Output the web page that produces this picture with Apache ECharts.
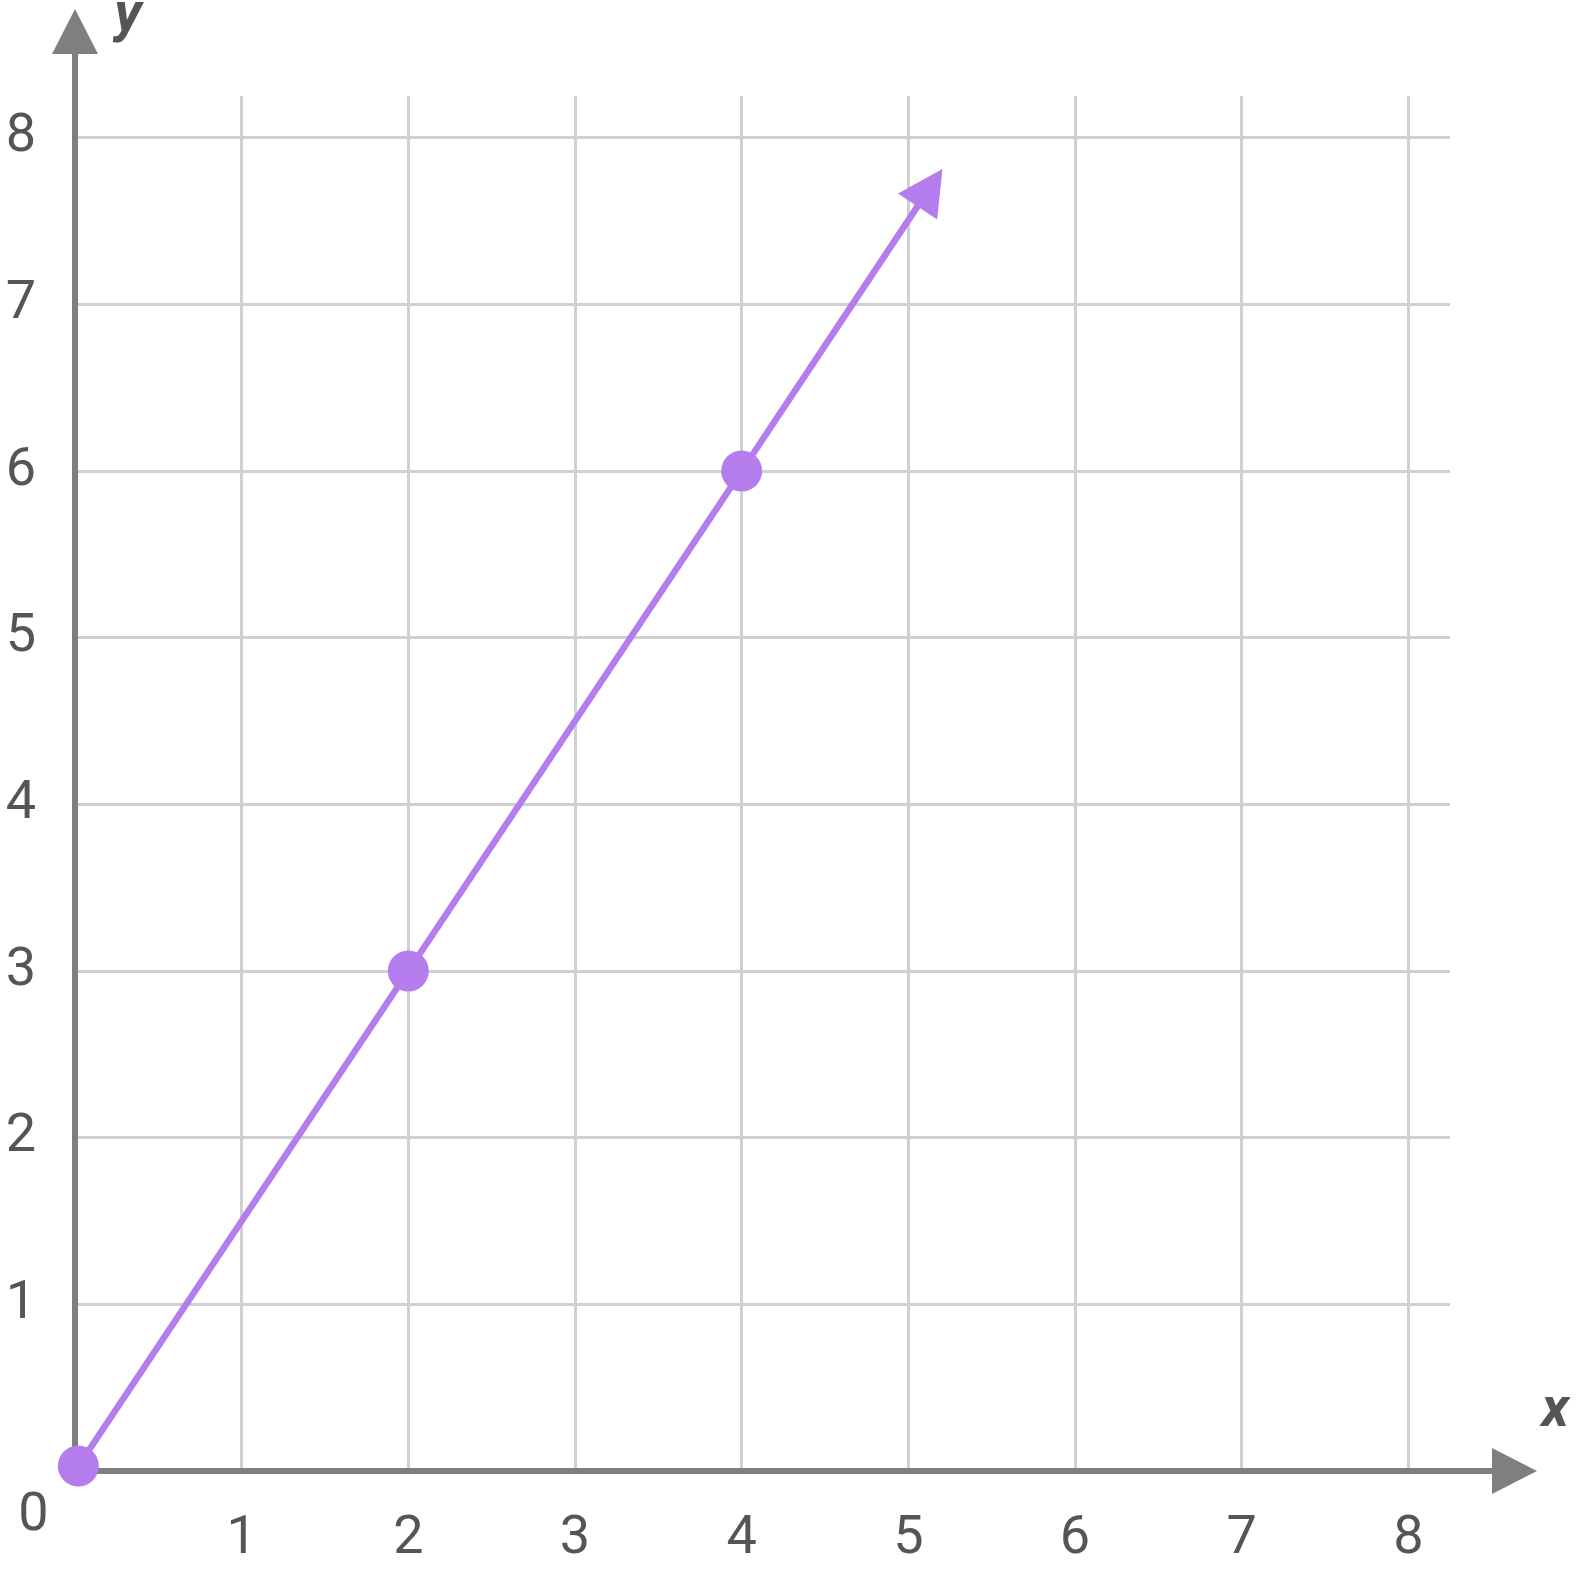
<!DOCTYPE html>
<html>
<head>
<meta charset="utf-8">
<script src="https://cdn.jsdelivr.net/npm/echarts@6/dist/echarts.min.js"></script>
<style>
html,body{margin:0;padding:0;background:#fff;}
#chart{width:1579px;height:1571px;}
</style>
</head>
<body>
<div id="chart"></div>
<script>
// ---- data ----
const xTickLabels = ['1','2','3','4','5','6','7','8'];
const yTickLabels = ['1','2','3','4','5','6','7','8'];
const points = [[0.02, 0.03], [2, 3], [4, 6]];
const rayStart = [4, 6];
const rayEnd = [5.13, 7.70];
const originLabel = '0';
const gridMax = 8.25;
const axisMax = 8.5;

const purple = '#b47cec';
const axisGray = '#7f7f7f';
const gridGray = '#d0d0d0';
const textGray = '#555555';
const font = 'Roboto';

const chart = echarts.init(document.getElementById('chart'), null, {renderer: 'canvas'});

function tickFmt(labels) {
  return function (v) {
    if (Number.isInteger(v) && v >= 1 && v <= labels.length) return labels[v - 1];
    return '';
  };
}

const option = {
  animation: false,
  backgroundColor: '#fff',
  grid: [
    {left: 75, bottom: 100, width: 1375, height: 1375, outerBoundsMode: 'none', containLabel: false},
    {left: 75, bottom: 100, width: 1416.5, height: 1416.5, outerBoundsMode: 'none', containLabel: false}
  ],
  xAxis: [
    {
      type: 'value', gridIndex: 0, min: 0, max: gridMax, interval: 1,
      axisLine: {show: false}, axisTick: {show: false},
      splitLine: {show: true, showMinLine: false, showMaxLine: false, lineStyle: {color: gridGray, width: 3}},
      axisLabel: {show: true, margin: 41, fontSize: 54, fontFamily: font, color: textGray,
        showMinLabel: false, showMaxLabel: false, formatter: tickFmt(xTickLabels)}
    },
    {
      type: 'value', gridIndex: 1, min: 0, max: axisMax,
      axisLine: {show: true, onZero: false, symbol: ['none', 'triangle'], symbolSize: [46, 45], symbolOffset: [0, 23],
        lineStyle: {color: axisGray, width: 6}},
      axisTick: {show: false}, axisLabel: {show: false}, splitLine: {show: false},
      name: 'x', nameLocation: 'end', nameGap: 50,
      nameTextStyle: {fontSize: 56, fontStyle: 'italic', fontWeight: 'bold', fontFamily: font, color: textGray,
        verticalAlign: 'bottom', lineHeight: 118}
    }
  ],
  yAxis: [
    {
      type: 'value', gridIndex: 0, min: 0, max: gridMax, interval: 1,
      axisLine: {show: false}, axisTick: {show: false},
      splitLine: {show: true, showMinLine: false, showMaxLine: false, lineStyle: {color: gridGray, width: 3}},
      axisLabel: {show: true, margin: 39, fontSize: 54, fontFamily: font, color: textGray,
        padding: [8, 0, 0, 0],
        showMinLabel: false, showMaxLabel: false, formatter: tickFmt(yTickLabels)}
    },
    {
      type: 'value', gridIndex: 1, min: 0, max: axisMax,
      axisLine: {show: true, onZero: false, symbol: ['none', 'triangle'], symbolSize: [46, 45], symbolOffset: [0, 23],
        lineStyle: {color: axisGray, width: 6}},
      axisTick: {show: false}, axisLabel: {show: false}, splitLine: {show: false},
      name: 'y', nameLocation: 'end', nameGap: 10,
      nameTextStyle: {fontSize: 56, fontStyle: 'italic', fontWeight: 'bold', fontFamily: font, color: textGray,
        padding: [0, 0, 0, 106]}
    }
  ],
  series: [
    {
      type: 'line', xAxisIndex: 0, yAxisIndex: 0, clip: false,
      data: points,
      symbol: 'circle', symbolSize: 41, showSymbol: true,
      itemStyle: {color: purple},
      lineStyle: {color: purple, width: 6.5},
      silent: true,
      markLine: {
        silent: true, animation: false,
        symbol: ['none', 'triangle'], symbolSize: [47, 45],
        label: {show: false},
        lineStyle: {color: purple, width: 6.5, type: 'solid'},
        emphasis: {disabled: true},
        data: [[{coord: rayStart}, {coord: rayEnd}]]
      }
    },
    {
      type: 'scatter', xAxisIndex: 0, yAxisIndex: 0, clip: false, silent: true,
      data: [[0, 0]],
      symbolSize: 1,
      itemStyle: {color: 'rgba(0,0,0,0)'},
      label: {show: true, position: 'inside', offset: [-41.5, 45], formatter: originLabel,
        fontSize: 54, fontFamily: font, color: textGray, opacity: 1, textBorderWidth: 0}
    }
  ]
};
chart.setOption(option);
</script>
</body>
</html>
